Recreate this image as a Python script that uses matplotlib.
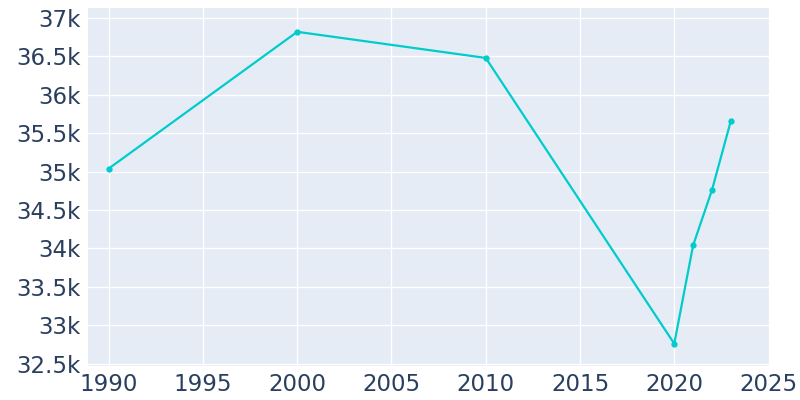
import matplotlib
matplotlib.use("Agg")
import matplotlib.pyplot as plt
from matplotlib.ticker import FuncFormatter

years = [1990, 2000, 2010, 2020, 2021, 2022, 2023]
population = [35040, 36820, 36480, 32760, 34040, 34760, 35660]
xticks = [1990, 1995, 2000, 2005, 2010, 2015, 2020, 2025]
yticks = [32500, 33000, 33500, 34000, 34500, 35000, 35500, 36000, 36500, 37000]

fig = plt.figure(figsize=(8, 4), dpi=100)
ax = fig.add_axes([0.11, 0.085, 0.853, 0.895])
ax.set_facecolor("#E5ECF6")
ax.plot(years, population, color="#00CCCC", lw=1.6, marker="o", ms=3.5, zorder=3)
ax.set_xlim(1988.9, 2025.1)
ax.set_ylim(32470, 37130)
ax.set_xticks(xticks)
ax.set_yticks(yticks)
ax.yaxis.set_major_formatter(FuncFormatter(lambda v, p: f"{v/1000:g}k"))
ax.grid(color="white", lw=1)
ax.set_axisbelow(True)
for s in ax.spines.values():
    s.set_visible(False)
ax.tick_params(length=0, labelsize=16.5, labelcolor="#2a3f5f", pad=5)
fig.savefig("out.png")
